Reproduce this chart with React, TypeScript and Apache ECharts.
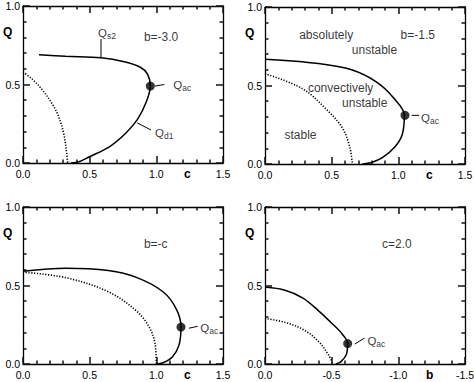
import React, { useEffect, useRef } from "react";
import * as echarts from "echarts";

// ---------- data ----------
// Panel 1: b = -3.0, x = c
const outer1: [number, number][] = [
  [0.12, 0.69], [0.32, 0.68], [0.585, 0.67], [0.76, 0.645], [0.88, 0.61], [0.935, 0.565],
  [0.955, 0.49], [0.925, 0.39], [0.86, 0.28], [0.77, 0.19], [0.65, 0.105], [0.5, 0.04], [0.42, 0.008], [0.36, 0.0],
];
const inner1: [number, number][] = [
  [0, 0.58], [0.075, 0.53], [0.15, 0.46], [0.22, 0.375], [0.265, 0.3], [0.305, 0.19], [0.325, 0.08], [0.335, 0.0],
];
const dot1: [number, number] = [0.955, 0.49];

// Panel 2: b = -1.5, x = c
const outer2: [number, number][] = [
  [0, 0.667], [0.4, 0.64], [0.65, 0.6], [0.84, 0.52], [0.965, 0.42], [1.045, 0.31],
  [1.03, 0.19], [0.975, 0.11], [0.88, 0.04], [0.8, 0.01], [0.73, 0.0],
];
const inner2: [number, number][] = [
  [0, 0.575], [0.28, 0.48], [0.47, 0.34], [0.58, 0.23], [0.635, 0.11], [0.655, 0.0],
];
const dot2: [number, number] = [1.05, 0.31];

// Panel 3: b = -c, x = c
const outer3: [number, number][] = [
  [0, 0.59], [0.32, 0.61], [0.64, 0.595], [0.855, 0.55], [1.05, 0.46], [1.15, 0.35],
  [1.185, 0.235], [1.17, 0.12], [1.12, 0.045], [1.05, 0.008], [1.0, 0.0],
];
const inner3: [number, number][] = [
  [0, 0.585], [0.32, 0.55], [0.64, 0.46], [0.855, 0.335], [0.95, 0.23], [0.99, 0.13], [1.0, 0.0],
];
const dot3: [number, number] = [1.185, 0.235];

// Panel 4: c = 2.0, x = b
const outer4: [number, number][] = [
  [0, 0.49], [-0.15, 0.47], [-0.285, 0.42], [-0.4, 0.34], [-0.5, 0.26], [-0.58, 0.19], [-0.62, 0.13],
  [-0.61, 0.06], [-0.57, 0.015], [-0.53, 0.0],
];
const inner4: [number, number][] = [
  [0, 0.29], [-0.15, 0.265], [-0.285, 0.22], [-0.4, 0.145], [-0.475, 0.06], [-0.51, 0.0],
];
const dot4: [number, number] = [-0.62, 0.13];

// annotations: [x, y, text] in data coordinates
const notes1: [number, number, string][] = [
  [0.907, 0.8, "b=-3.0"],
  [0.563, 0.83, "{m|Q}{s|s2}"],
  [1.127, 0.5, "{m|Q}{s|ac}"],
  [0.99, 0.19, "{m|Q}{s|d1}"],
];
const leaders1: [number, number][][] = [
  [[0.585, 0.79], [0.585, 0.675]],
  [[0.99, 0.49], [1.06, 0.5]],
  [[0.856, 0.256], [0.96, 0.21]],
];
const notes2: [number, number, string][] = [
  [0.256, 0.824, "absolutely"],
  [0.651, 0.723, "unstable"],
  [1.017, 0.824, "b=-1.5"],
  [0.322, 0.484, "convectively"],
  [0.578, 0.39, "unstable"],
  [0.146, 0.182, "stable"],
  [1.17, 0.296, "{m|Q}{s|ac}"],
];
const leaders2: [number, number][][] = [[[1.1, 0.31], [1.156, 0.31]]];
const notes3: [number, number, string][] = [
  [0.907, 0.766, "b=-c"],
  [1.33, 0.228, "{m|Q}{s|ac}"],
];
const leaders3: [number, number][][] = [[[1.244, 0.228], [1.31, 0.24]]];
const notes4: [number, number, string][] = [
  [-0.878, 0.766, "c=2.0"],
  [-0.768, 0.146, "{m|Q}{s|ac}"],
];
const leaders4: [number, number][][] = [[[-0.673, 0.127], [-0.746, 0.165]]];

// axes
const xRangeC = { min: 0, max: 1.5 };
const xRangeB = { min: -1.5, max: 0 };
const yRange = { min: 0, max: 1 };
const tickInterval = 0.5;

const FONT = "'Liberation Sans', Arial, sans-serif";

const panels = [
  { outer: outer1, inner: inner1, dot: dot1, notes: notes1, leaders: leaders1, x: xRangeC, inverse: false, xName: "c" },
  { outer: outer2, inner: inner2, dot: dot2, notes: notes2, leaders: leaders2, x: xRangeC, inverse: false, xName: "c" },
  { outer: outer3, inner: inner3, dot: dot3, notes: notes3, leaders: leaders3, x: xRangeC, inverse: false, xName: "c" },
  { outer: outer4, inner: inner4, dot: dot4, notes: notes4, leaders: leaders4, x: xRangeB, inverse: true, xName: "b" },
];

const grids = [
  { left: 23, top: 6, width: 200, height: 157 },
  { left: 265, top: 7, width: 200, height: 157 },
  { left: 23, top: 207, width: 200, height: 157 },
  { left: 265, top: 207, width: 200, height: 157 },
];

const fmt = (v: number) => (Math.abs(v) < 1e-9 ? "0.0" : v.toFixed(1));

export default function App() {
  const ref = useRef<HTMLDivElement>(null);
  useEffect(() => {
    if (!ref.current) return;
    const chart = echarts.init(ref.current, undefined, { renderer: "svg" });

    const black = "#000";
    const xAxes: any[] = [];
    const yAxes: any[] = [];
    const series: any[] = [];
    const texts: any[] = [];

    const axisCommon = () => ({
      axisLine: { show: true, onZero: false, lineStyle: { color: black, width: 1.3 } },
      axisTick: { show: true, inside: true, length: 7, lineStyle: { color: "#111", width: 1.5 } },
      minorTick: { show: true, splitNumber: 5, length: 3.5, lineStyle: { color: "#111", width: 1.5 } },
      splitLine: { show: false },
    });

    panels.forEach((p, i) => {
      ["bottom", "top"].forEach((pos) => {
        xAxes.push({
          type: "value",
          gridIndex: i,
          position: pos,
          min: p.x.min,
          max: p.x.max,
          interval: tickInterval,
          inverse: p.inverse,
          ...axisCommon(),
          axisLabel: {
            show: pos === "bottom",
            color: black,
            fontSize: 10.5,
            fontFamily: FONT,
            margin: 5,
            formatter: fmt,
          },
        });
      });
      ["left", "right"].forEach((pos) => {
        yAxes.push({
          type: "value",
          gridIndex: i,
          position: pos,
          min: yRange.min,
          max: yRange.max,
          interval: tickInterval,
          ...axisCommon(),
          axisLabel: {
            show: pos === "left",
            color: black,
            fontSize: 10.5,
            fontFamily: FONT,
            margin: 3,
            formatter: fmt,
          },
        });
      });
      const xi = i * 2;
      const yi = i * 2;
      series.push({
        type: "line",
        xAxisIndex: xi,
        yAxisIndex: yi,
        data: p.outer,
        smooth: 0.35,
        symbol: "none",
        lineStyle: { color: black, width: 1.5 },
      });
      series.push({
        type: "line",
        xAxisIndex: xi,
        yAxisIndex: yi,
        data: p.inner,
        smooth: 0.35,
        symbol: "none",
        lineStyle: { color: black, width: 1.6, type: [1.2, 1.6] },
      });
      series.push({
        type: "scatter",
        xAxisIndex: xi,
        yAxisIndex: yi,
        data: [p.dot],
        symbol: "circle",
        symbolSize: 9,
        itemStyle: { color: black },
        z: 5,
      });
      p.leaders.forEach((seg) => {
        series.push({
          type: "line",
          xAxisIndex: xi,
          yAxisIndex: yi,
          data: seg,
          symbol: "none",
          lineStyle: { color: black, width: 1 },
        });
      });
      series.push({
        type: "scatter",
        xAxisIndex: xi,
        yAxisIndex: yi,
        symbolSize: 0,
        data: p.notes.map((n) => ({ value: [n[0], n[1]], name: n[2] })),
        label: {
          show: true,
          position: "right",
          distance: 0,
          color: black,
          fontSize: 12,
          fontFamily: FONT,
          formatter: (d: any) => d.name,
          rich: {
            m: { fontSize: 11.5, fontFamily: FONT, color: black, lineHeight: 15, verticalAlign: "middle" },
            s: { fontSize: 8.5, fontFamily: FONT, color: black, lineHeight: 9, verticalAlign: "bottom" },
          },
        },
      });

      const g = grids[i];
      texts.push({
        type: "text",
        left: g.left - 20,
        top: g.top + 20,
        style: { text: "Q", font: `bold 12px ${FONT}`, fill: black },
      });
      texts.push({
        type: "text",
        left: g.left + 161,
        top: g.top + g.height + 5,
        style: { text: p.xName, font: `bold 12px ${FONT}`, fill: black },
      });
    });

    chart.setOption({
      animation: false,
      backgroundColor: "#fff",
      grid: grids.map((g) => ({ ...g, outerBoundsMode: "none" })),
      xAxis: xAxes,
      yAxis: yAxes,
      series,
      graphic: texts,
    });
    return () => chart.dispose();
  }, []);
  return (
    <div
      ref={ref}
      style={{ position: "fixed", left: 0, top: 0, width: 474, height: 382, background: "#fff" }}
    />
  );
}
